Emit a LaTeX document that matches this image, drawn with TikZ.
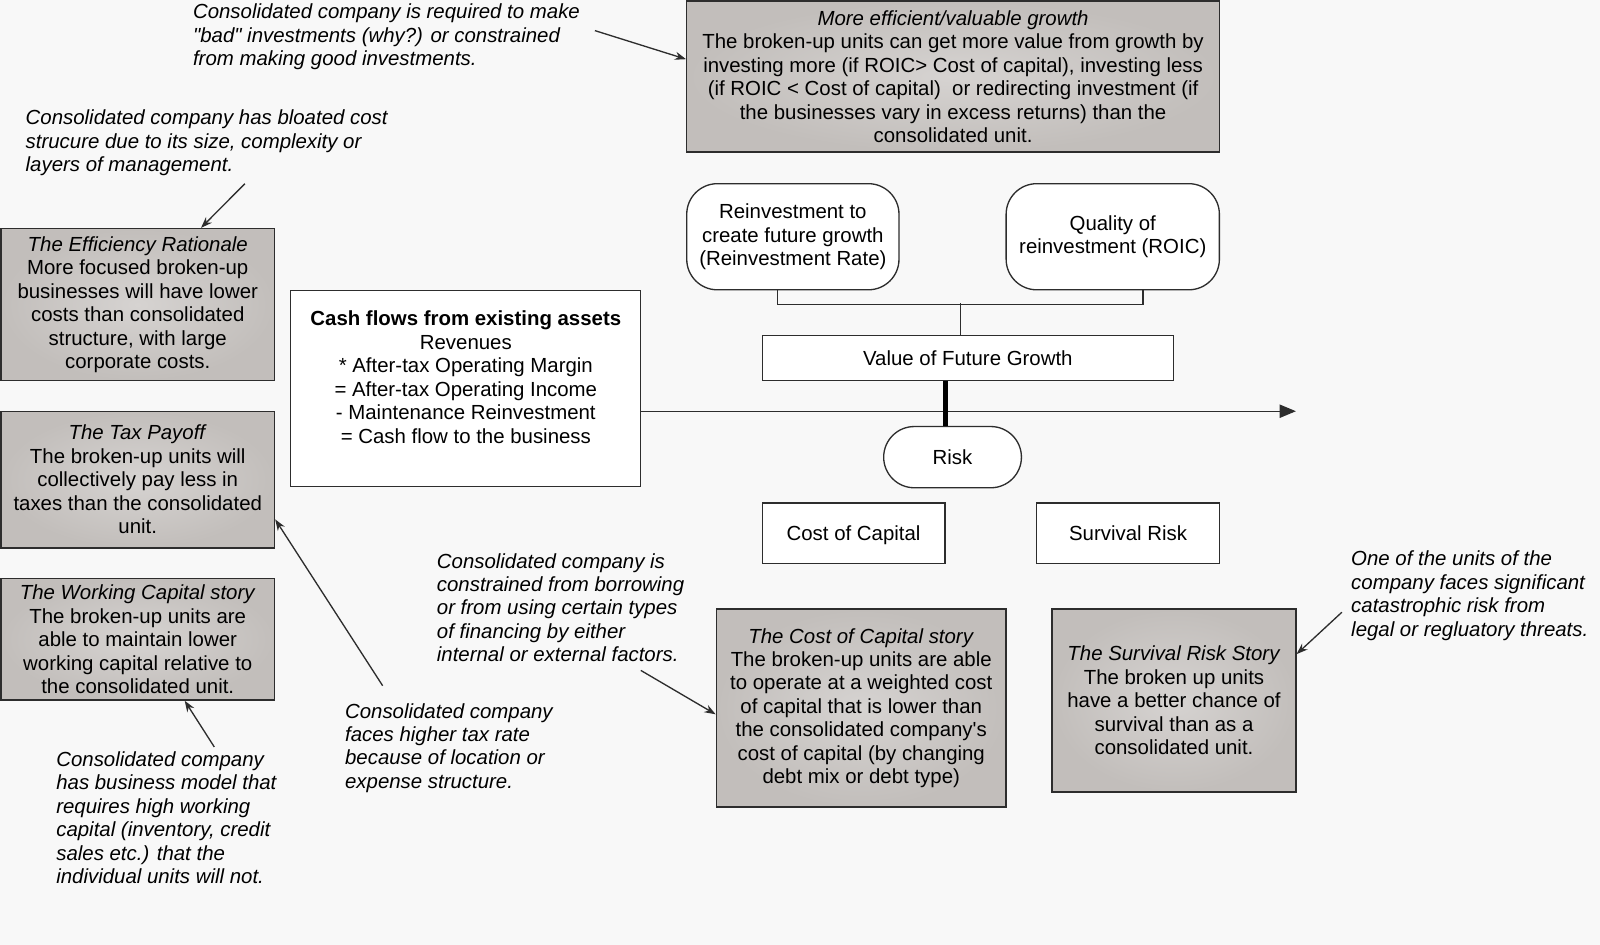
\documentclass[tikz,border=0pt]{standalone}
\usepackage{fontspec}
\setmainfont{Liberation Sans}[Ligatures=TeXOff]
\usetikzlibrary{arrows.meta}
\definecolor{bgcol}{RGB}{248,248,248}
\definecolor{edgecol}{RGB}{45,45,45}
\definecolor{grayin}{RGB}{214,211,209}
\definecolor{grayout}{RGB}{194,190,187}
\tikzset{
  base/.style={font=\fontsize{20}{23}\selectfont, inner sep=0pt, align=center},
  graybox/.style={base, draw=edgecol, line width=1.4pt, inner color=grayin, outer color=grayout},
  whitebox/.style={base, draw=edgecol, line width=1.3pt, fill=white},
  roundbox/.style={whitebox, rounded corners=30pt},
  onebox/.style={whitebox, text height=15pt, text depth=0pt},
  note/.style={base, align=left, anchor=west, font=\fontsize{20}{23}\selectfont\itshape},
  arr/.style={draw=edgecol, line width=1.3pt, -{Stealth[length=11pt,width=8pt]}},
  conn/.style={draw=edgecol, line width=1.3pt},
  heavy/.style={draw=black, line width=5pt},
  mainarr/.style={draw=edgecol, line width=1.3pt, -{Triangle[length=16pt,width=13pt]}}
}
\begin{document}
\begin{tikzpicture}[x=1pt,y=-1pt]
\fill[bgcol] (0,0) rectangle (1568,926);
\useasboundingbox (0,0) rectangle (1568,926);

% top gray box
\node[graybox, minimum width=522pt, minimum height=148pt] (top) at (934,75)
 {\textit{More efficient/valuable growth}\\
  The broken-up units can get more value from growth by\\
  investing more (if ROIC> Cost of capital), investing less\\
  (if ROIC < Cost of capital)\ \ or redirecting investment (if\\
  the businesses vary in excess returns) than the\\
  consolidated unit.};

% annotations
\node[note] (n1) at (189,36) {Consolidated company is required to make\\
 "bad" investments (why?) or constrained\\ from making good investments.};
\node[note] (n2) at (25,140) {Consolidated company has bloated cost\\
 strucure due to its size, complexity or\\ layers of management.};
\node[note] (n3) at (55,801.5) {Consolidated company\\ has business model that\\
 requires high working\\ capital (inventory, credit\\ sales etc.) that the\\
 individual units will not.};
\node[note] (n4) at (338,733) {Consolidated company\\ faces higher tax rate\\
 because of location or\\ expense structure.};
\node[note] (n5) at (428,595.5) {Consolidated company is\\ constrained from borrowing\\
 or from using certain types\\ of financing by either\\ internal or external factors.};
\node[note] (n6) at (1324,584) {One of the units of the\\ company faces significant\\
 catastrophic risk from\\ legal or regluatory threats.};

% left gray boxes
\node[graybox, minimum width=268pt, minimum height=149pt] (eff) at (135,298.5)
 {\textit{The Efficiency Rationale}\\ More focused broken-up\\ businesses will have lower\\
  costs than consolidated\\ structure, with large\\ corporate costs.};
\node[graybox, minimum width=268pt, minimum height=134pt] (tax) at (135,470)
 {\textit{The Tax Payoff}\\ The broken-up units will\\ collectively pay less in\\
  taxes than the consolidated\\ unit.};
\node[graybox, minimum width=268pt, minimum height=119pt] (wc) at (135,626.5)
 {\textit{The Working Capital story}\\ The broken-up units are\\ able to maintain lower\\
  working capital relative to\\ the consolidated unit.};

% cash flows box
\node[whitebox, minimum width=343pt, minimum height=192pt] (cash) at (456.5,381)
 {\textbf{Cash flows from existing assets}\\ Revenues\\ * After-tax Operating Margin\\
  = After-tax Operating Income\\ - Maintenance Reinvestment\\ = Cash flow to the business\\ \mbox{}};

% growth side
\node[roundbox, minimum width=208pt, minimum height=104pt] (reinv) at (777,232)
 {Reinvestment to\\ create future growth\\ (Reinvestment Rate)};
\node[roundbox, minimum width=209pt, minimum height=104pt] (qual) at (1090.5,232)
 {Quality of\\ reinvestment (ROIC)};
\node[onebox, minimum width=403pt, minimum height=44pt] (vfg) at (948.5,351)
 {Value of Future Growth};
\node[onebox, rounded corners=30pt, minimum width=135pt, minimum height=60pt] (risk) at (933.5,448) {Risk};
\node[onebox, minimum width=179pt, minimum height=59pt] (coc) at (836.5,522.5) {Cost of Capital};
\node[onebox, minimum width=179pt, minimum height=59pt] (surv) at (1105.5,522.5) {Survival Risk};

% bottom gray boxes
\node[graybox, minimum width=284pt, minimum height=194pt] (cocs) at (844,694)
 {\textit{The Cost of Capital story}\\ The broken-up units are able\\ to operate at a weighted cost\\
  of capital that is lower than\\ the consolidated company's\\ cost of capital (by changing\\
  debt mix or debt type)};
\node[graybox, minimum width=239pt, minimum height=179pt] (svs) at (1150.5,686.5)
 {\textit{The Survival Risk Story}\\ The broken up units\\ have a better chance of\\
  survival than as a\\ consolidated unit.};

% connectors
\coordinate (b1) at ([xshift=-15pt]reinv.south);
\coordinate (b2) at ([xshift=29.5pt]qual.south);
\draw[conn] (b1) -- ++(0,14) -| (b2);
\coordinate (b3) at ([xshift=-7.5pt]vfg.north);
\draw[conn] (b3) -- ++(0,-31);

\coordinate (tl) at (1270,403);
\draw[mainarr] ([yshift=-22pt]cash.east) -- (tl);
\coordinate (tk) at ([xshift=-21.5pt]vfg.south);
\draw[heavy] (tk) -- (tk |- risk.north);

% annotation arrows
\coordinate (s1) at (583,30);
\draw[arr] (s1) -- ([yshift=17pt]top.west);
\coordinate (s2) at (240,180);
\draw[arr] (s2) -- ([xshift=62pt]eff.north);
\coordinate (s3) at (210,732);
\draw[arr] (s3) -- ([xshift=46pt]wc.south);
\coordinate (s4) at (375,672);
\draw[arr] (s4) -- ([yshift=-39pt]tax.east);
\coordinate (s5) at (628,657);
\draw[arr] (s5) -- ([yshift=-6pt]cocs.west);
\coordinate (s6) at (1315,600);
\draw[arr] (s6) -- ([yshift=45.5pt]svs.east);
\end{tikzpicture}
\end{document}
